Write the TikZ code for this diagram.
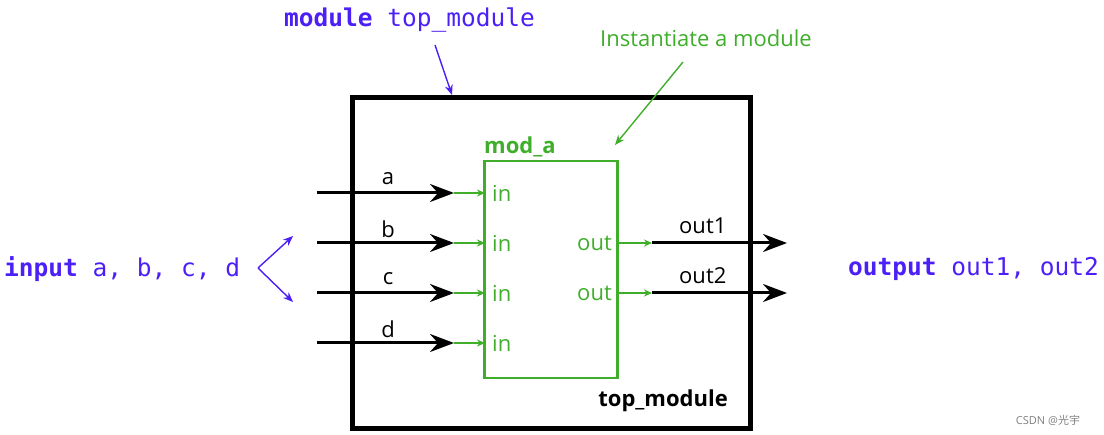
\documentclass[tikz,border=0pt]{standalone}
\usepackage{fontspec}
\setmainfont{Open Sans}
\newfontfamily\monof{DejaVu Sans Mono}
\newfontfamily\cjk{Noto Sans CJK SC}
\usetikzlibrary{arrows.meta}
\definecolor{gr}{HTML}{3FAE2A}
\definecolor{bl}{HTML}{4B1FF5}
\begin{document}
\begin{tikzpicture}[x=1pt,y=-1pt,
  lbl/.style={font=\fontsize{22}{24}\selectfont,inner sep=0},
  glbl/.style={lbl,text=gr},
  mono/.style={font=\monof\fontsize{24.5}{26}\selectfont,inner sep=0,text=bl},
  bigar/.style={line width=3pt,-{Stealth[length=24pt,width=18pt,inset=8pt]}},
  gar/.style={gr,line width=1.6pt,-{Stealth[length=8pt,width=7pt]}},
  blar/.style={bl,line width=1.4pt,-{Stealth[length=10pt,width=8pt]}}]
\useasboundingbox (0,0) rectangle (1104,435);
\node[draw,line width=5pt,minimum width=398pt,minimum height=331pt,anchor=north west,inner sep=0] (top) at (350,95) {};
\node[draw=gr,line width=2.5pt,minimum width=133pt,minimum height=217pt,anchor=north west,inner sep=0] (moda) at (483,160) {};
\node[lbl,font=\bfseries\fontsize{22}{24}\selectfont,anchor=south east] (tl) at (728,412) {top\_module};
\node[glbl,font=\bfseries\fontsize{22}{24}\selectfont,anchor=south west] (ml) at (484,157) {mod\_a};
\foreach \n/\y in {a/193,b/243,c/293,d/343}{
  \coordinate (s\n) at (317,\y);
  \coordinate (t\n) at (454,\y);
  \coordinate (g\n) at (485,\y);
  \draw[bigar] (s\n) -- (t\n);
  \draw[gar] (t\n) -- (g\n);
  \node[lbl] (l\n) at (388,\y-14) {\n};
  \node[glbl,anchor=west] (i\n) at (492,\y) {in};
}
\foreach \k/\y in {1/243,2/293}{
  \coordinate (o\k) at (616,\y);
  \coordinate (p\k) at (652,\y);
  \coordinate (q\k) at (787,\y);
  \draw[gar] (o\k) -- (p\k);
  \draw[bigar] (p\k) -- (q\k);
  \node[glbl,anchor=east] (ot\k) at (612,\y) {out};
  \node[lbl,anchor=west] (ol\k) at (679,\y-17) {out\k};
}
\node[mono,anchor=west] (inp) at (4,269) {\textbf{input} a, b, c, d};
\coordinate (v) at (258,268);
\coordinate (v1) at (293,236);
\coordinate (v2) at (293,302);
\draw[blar] (v) -- (v1);
\draw[blar] (v) -- (v2);
\node[mono,anchor=east] (outp) at (1099,269) {\textbf{output} out1, out2};
\node[mono,anchor=west] (mod) at (284,20) {\textbf{module} top\_module};
\coordinate (ma) at (435,45);
\coordinate (mb) at (452,95);
\draw[blar] (ma) -- (mb);
\node[glbl,anchor=west] (inst) at (600,38) {Instantiate a module};
\coordinate (ia) at (683,62);
\coordinate (ib) at (615,145);
\draw[gr,line width=1.4pt,-{Stealth[length=10pt,width=8pt]}] (ia) -- (ib);
\node[inner sep=0,text=gray,font=\fontsize{11}{13}\selectfont] (wm) at (1048,420) {CSDN @{\cjk 光宇}};
\end{tikzpicture}
\end{document}
